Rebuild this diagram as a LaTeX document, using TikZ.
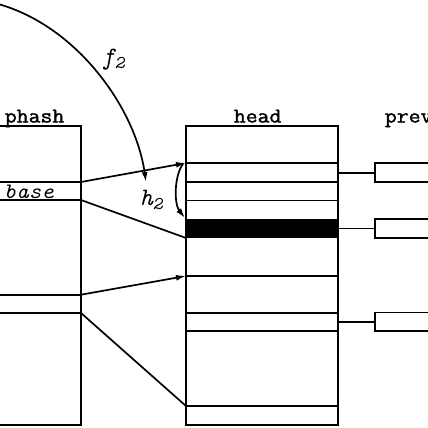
\documentclass[tikz,border=0pt]{standalone}
\usepackage{fontspec}
\usepackage{graphicx}
\newfontfamily\hdrfont[FakeBold=1.6]{Latin Modern Mono}
\usetikzlibrary{arrows.meta}
\begin{document}
\begin{tikzpicture}[x=1pt,y=-1pt,line width=1.7pt,
  hdr/.style={font=\fontsize{21}{21}\selectfont\hdrfont,inner sep=0pt,anchor=base west},
  itl/.style={font=\fontsize{22}{22}\selectfont\ttfamily\itshape,inner sep=0pt,anchor=base west},
  big/.style={font=\fontsize{25}{25}\selectfont\ttfamily\itshape},
  arr/.style={-{Latex[length=10pt,width=6pt]}},
  line join=miter]
\clip (0,0) rectangle (428,428);
% labels
\node[hdr] (lphash) at (4,122.5) {\scalebox{1.1}[1]{phash}};
\node[hdr] (lhead) at (233,122.5) {\scalebox{1.1}[1]{head}};
\node[hdr] (lprev) at (384,122.5) {\scalebox{1.1}[1]{prev}};
\node[itl] (lbase) at (3,198) {\scalebox{1.08}[1]{base}};
\node[itl,big] (lf) at (101,65) {f\raisebox{-4pt}{\fontsize{18}{18}\selectfont 2}};
\node[itl,big] (lh) at (139,205) {h\raisebox{-4pt}{\fontsize{18}{18}\selectfont 2}};
% phash table
\draw (-5,126) -- (81,126) -- (81,425) -- (-5,425);
\draw (-5,182) -- (81,182);
\draw (-5,200) -- (81,200);
\draw (-5,294.7) -- (81,294.7);
\draw (-5,313) -- (81,313);
% head table
\fill (186,219) rectangle (338,238);
\draw (186,126) rectangle (338,425);
\foreach \yy in {163,182,200.5,276,313,331,406} \draw (186,\yy) -- (338,\yy);
% coordinates
\coordinate (pa) at (81,182);
\coordinate (pb) at (81,200);
\coordinate (pc) at (81,294.7);
\coordinate (pd) at (81,313);
\coordinate (ha) at (186,163);
\coordinate (hb) at (186,238);
\coordinate (hc) at (186,276);
\coordinate (hd) at (186,406);
\draw[arr] (pa) -- (ha);
\draw (pb) -- (hb);
\draw[arr] (pc) -- (hc);
\draw (pd) -- (hd);
% prev
\coordinate (ra) at (338,172.7);
\coordinate (rb) at (338,228.5);
\coordinate (rc) at (338,322);
\coordinate (qa) at (375,172.7);
\coordinate (qb) at (375,228.5);
\coordinate (qc) at (375,322);
\draw (ra) -- (qa);
\draw (rb) -- (qb);
\draw (rc) -- (qc);
\draw (375,163) rectangle (440,182);
\draw (375,219) rectangle (440,238);
\draw (375,312.5) rectangle (440,331);
% f2 curve
\coordinate (fs) at (-10,2);
\coordinate (fe) at (146,182);
\draw[arr] (fs) .. controls (72,20) and (135,105) .. (fe);
% h2 curve
\coordinate (hs) at (183,164);
\coordinate (he) at (185,218);
\draw[arr] (hs) .. controls (174,176) and (174,204) .. (he);
\end{tikzpicture}
\end{document}
